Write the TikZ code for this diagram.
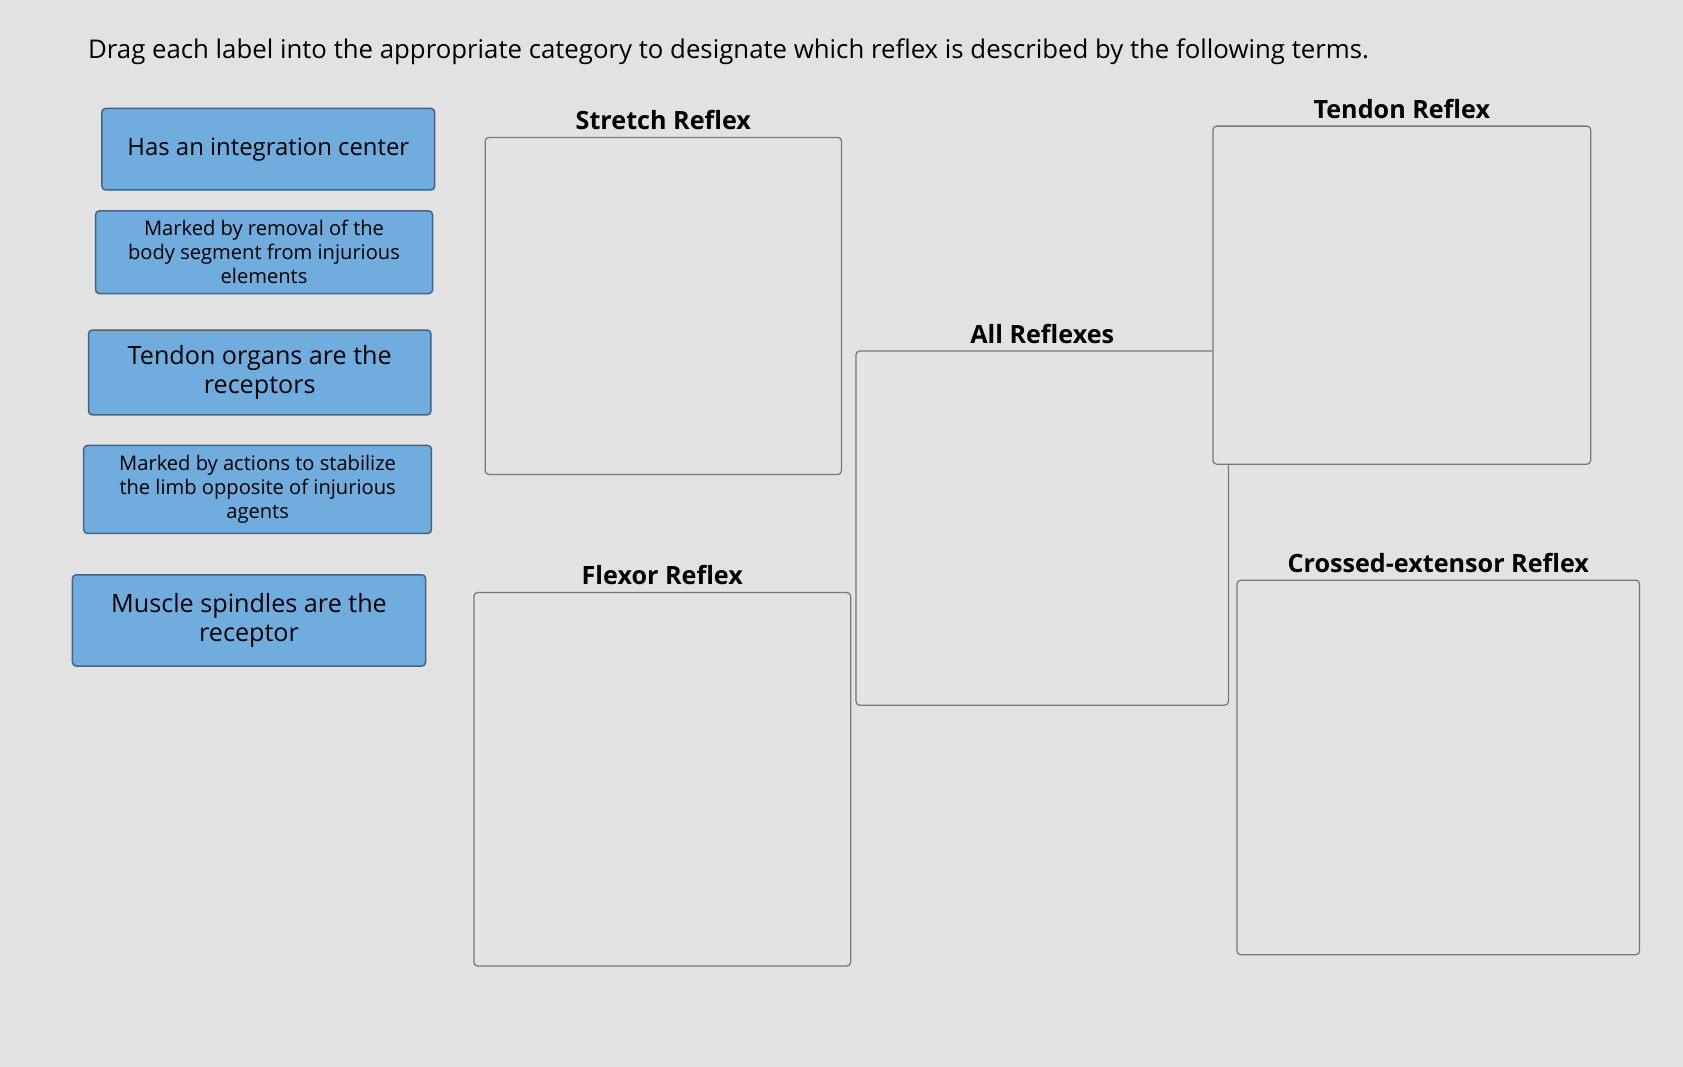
\documentclass[tikz,border=0pt]{standalone}
\usepackage{fontspec}
\setmainfont{Open Sans}
\usetikzlibrary{positioning}
\definecolor{bg1}{RGB}{226,226,226}
\definecolor{blue1}{RGB}{112,172,222}
\definecolor{edge1}{RGB}{70,100,130}
\definecolor{box1}{RGB}{120,120,120}
\tikzset{
  lbl/.style={draw=edge1,fill=blue1,rounded corners=3pt,line width=1.2pt,align=center,inner sep=0pt},
  cat/.style={draw=box1,fill=bg1!95!white,rounded corners=3pt,line width=1pt,inner sep=0pt},
  ttl/.style={font=\fontsize{20}{24}\selectfont\bfseries}
}
\begin{document}
\begin{tikzpicture}[x=0.03cm,y=-0.03cm]
  \useasboundingbox[fill=bg1] (0,0) rectangle (1568,994);
  \node[anchor=west,font=\fontsize{20.5}{24}\selectfont] (head) at (78,48)
    {Drag each label into the appropriate category to designate which reflex is described by the following terms.};
  % labels
  \node[lbl,minimum width=310*0.03cm,minimum height=76*0.03cm,font=\fontsize{19}{22}\selectfont] (l1) at (250,139) {Has an integration center};
  \node[lbl,minimum width=314*0.03cm,minimum height=77*0.03cm,font=\fontsize{16}{19}\selectfont] (l2) at (246,235) {Marked by removal of the\\body segment from injurious\\elements};
  \node[lbl,minimum width=319*0.03cm,minimum height=79*0.03cm,font=\fontsize{20}{23}\selectfont] (l3) at (242,347) {Tendon organs are the\\receptors};
  \node[lbl,minimum width=324*0.03cm,minimum height=82*0.03cm,font=\fontsize{16}{19}\selectfont] (l4) at (240,456) {Marked by actions to stabilize\\the limb opposite of injurious\\agents};
  \node[lbl,minimum width=329*0.03cm,minimum height=85*0.03cm,font=\fontsize{20}{23}\selectfont] (l5) at (232,578) {Muscle spindles are the\\receptor};
  % categories
  \node[cat,minimum width=332*0.03cm,minimum height=314*0.03cm] (stretch) at (618,285) {};
  \node[ttl,above=2pt of stretch] (tstretch) {Stretch Reflex};
  \node[cat,minimum width=351*0.03cm,minimum height=348*0.03cm] (flexor) at (617,726) {};
  \node[ttl,above=2pt of flexor] (tflexor) {Flexor Reflex};
  \node[cat,minimum width=347*0.03cm,minimum height=330*0.03cm] (all) at (971,492) {};
  \node[ttl,above=2pt of all] (tall) {All Reflexes};
  \node[cat,minimum width=352*0.03cm,minimum height=315*0.03cm] (tendon) at (1306,275) {};
  \node[ttl,above=2pt of tendon] (ttendon) {Tendon Reflex};
  \node[cat,minimum width=375*0.03cm,minimum height=349*0.03cm] (crossed) at (1340,715) {};
  \node[ttl,above=2pt of crossed] (tcrossed) {Crossed-extensor Reflex};
\end{tikzpicture}
\end{document}
